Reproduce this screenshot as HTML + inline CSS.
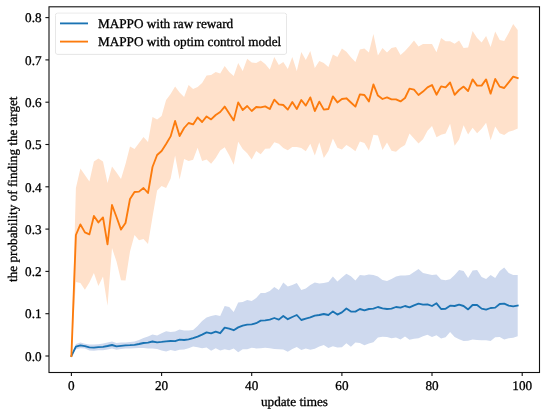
<!DOCTYPE html>
<html lang="en"><head><meta charset="utf-8"><title>MAPPO probability of finding the target</title>
<style>html,body{margin:0;padding:0;background:#fff}body{width:550px;height:414px;overflow:hidden}</style></head>
<body>
<svg width="550" height="414" viewBox="0 0 550 414" style="display:block;font-family:'Liberation Serif','Times New Roman',serif;font-size:13.2px;text-rendering:geometricPrecision;paint-order:stroke" fill="#000">
<rect width="550" height="414" fill="#fff"/>
<style>text{stroke:#000;stroke-width:0.3px;stroke-linejoin:round}</style>
<polygon points="71.4,356.0 75.9,344.0 80.4,342.6 84.9,343.8 89.4,344.4 93.9,344.4 98.4,344.2 103.0,343.4 107.5,342.6 112.0,341.4 116.5,343.0 121.0,342.6 125.5,342.4 130.0,342.0 134.5,341.4 139.0,340.0 143.5,338.0 148.0,336.6 152.5,334.6 157.1,335.5 161.6,333.2 166.1,331.2 170.6,332.0 175.1,331.4 179.6,329.4 184.1,330.6 188.6,330.6 193.1,330.0 197.6,326.0 202.1,321.0 206.6,317.4 211.1,316.0 215.7,315.0 220.2,316.0 224.7,306.0 229.2,307.0 233.7,312.0 238.2,302.6 242.7,302.0 247.2,300.0 251.7,301.0 256.2,298.0 260.7,293.0 265.2,293.0 269.8,291.0 274.3,287.0 278.8,290.0 283.3,282.4 287.8,286.6 292.3,285.0 296.8,283.0 301.3,290.0 305.8,288.6 310.3,285.0 314.8,282.4 319.3,283.6 323.8,283.0 328.4,282.0 332.9,276.6 337.4,281.6 341.9,277.6 346.4,273.8 350.9,276.3 355.4,280.6 359.9,275.0 364.4,275.6 368.9,274.4 373.4,275.0 377.9,276.6 382.5,280.0 387.0,281.0 391.5,279.0 396.0,276.6 400.5,275.6 405.0,275.6 409.5,275.0 414.0,272.0 418.5,269.0 423.0,273.0 427.5,274.0 432.0,275.0 436.5,274.5 441.1,279.6 445.6,280.3 450.1,279.3 454.6,275.0 459.1,270.0 463.6,271.0 468.1,278.0 472.6,270.4 477.1,270.0 481.6,277.0 486.1,279.0 490.6,275.0 495.2,278.0 499.7,271.0 504.2,267.6 508.7,273.0 513.2,275.0 517.7,275.0 517.7,336.2 513.2,337.8 508.7,338.2 504.2,339.6 499.7,337.0 495.2,337.2 490.6,341.0 486.1,340.2 481.6,340.2 477.1,340.0 472.6,339.6 468.1,340.8 463.6,341.0 459.1,339.2 454.6,337.0 450.1,332.1 445.6,337.3 441.1,338.4 436.5,335.3 432.0,337.0 427.5,334.8 423.0,336.2 418.5,338.2 414.0,338.8 409.5,339.8 405.0,336.4 400.5,339.6 396.0,337.4 391.5,338.2 387.0,337.0 382.5,336.8 377.9,337.4 373.4,342.2 368.9,343.6 364.4,345.2 359.9,343.0 355.4,342.6 350.9,346.7 346.4,343.2 341.9,347.2 337.4,347.6 332.9,346.2 328.4,348.0 323.8,345.0 319.3,346.4 314.8,348.8 310.3,349.8 305.8,348.6 301.3,350.0 296.8,347.0 292.3,349.0 287.8,351.8 283.3,349.6 278.8,349.2 274.3,349.0 269.8,348.2 265.2,347.8 260.7,348.2 256.2,348.4 251.7,347.8 247.2,349.2 242.7,349.2 238.2,352.2 233.7,348.4 229.2,350.2 224.7,349.2 220.2,350.4 215.7,348.2 211.1,350.8 206.6,347.4 202.1,348.2 197.6,347.2 193.1,346.4 188.6,348.2 184.1,349.4 179.6,349.8 175.1,351.0 170.6,350.0 166.1,351.4 161.6,350.6 157.1,349.1 152.5,348.4 148.0,348.6 143.5,348.0 139.0,348.0 134.5,348.2 130.0,348.4 125.5,348.4 121.0,349.0 116.5,349.8 112.0,348.6 107.5,349.4 103.0,350.2 98.4,350.2 93.9,350.8 89.4,350.4 84.9,348.6 80.4,348.2 75.9,349.2 71.4,356.0" fill="#ced9ee"/>
<polygon points="71.4,356.0 75.9,188.0 80.4,168.6 84.9,175.0 89.4,181.6 93.9,161.6 98.4,158.6 103.0,161.6 107.5,183.0 112.0,166.6 116.5,172.4 121.0,179.0 125.5,164.0 130.0,146.6 134.5,149.0 139.0,143.0 143.5,137.0 148.0,142.0 152.5,117.0 157.1,119.5 161.6,116.0 166.1,100.0 170.6,94.0 175.1,86.4 179.6,92.4 184.1,97.0 188.6,85.0 193.1,89.0 197.6,87.0 202.1,83.0 206.6,75.6 211.1,75.0 215.7,72.0 220.2,73.6 224.7,66.0 229.2,72.0 233.7,76.0 238.2,63.0 242.7,71.0 247.2,58.7 251.7,62.5 256.2,63.0 260.7,60.6 265.2,64.0 269.8,69.4 274.3,57.0 278.8,65.0 283.3,62.0 287.8,69.0 292.3,57.0 296.8,71.0 301.3,52.0 305.8,60.0 310.3,51.0 314.8,68.0 319.3,61.0 323.8,63.0 328.4,67.0 332.9,54.4 337.4,57.0 341.9,48.6 346.4,51.7 350.9,57.3 355.4,62.0 359.9,49.4 364.4,48.4 368.9,52.4 373.4,34.0 377.9,55.6 382.5,48.0 387.0,52.4 391.5,48.0 396.0,47.0 400.5,55.0 405.0,51.0 409.5,46.0 414.0,40.6 418.5,46.4 423.0,44.0 427.5,44.0 432.0,44.0 436.5,52.2 441.1,38.0 445.6,41.2 450.1,41.2 454.6,43.8 459.1,40.6 463.6,48.0 468.1,47.4 472.6,31.0 477.1,38.0 481.6,42.4 486.1,36.0 490.6,47.0 495.2,31.4 499.7,40.0 504.2,41.0 508.7,33.0 513.2,24.0 517.7,30.0 517.7,128.5 513.2,130.5 508.7,131.8 504.2,135.0 499.7,133.2 495.2,126.6 490.6,140.2 486.1,122.8 481.6,128.8 477.1,133.2 472.6,127.8 468.1,134.6 463.6,125.2 459.1,139.4 454.6,145.8 450.1,123.8 445.6,133.6 441.1,134.8 436.5,137.2 432.0,126.0 427.5,130.8 423.0,139.2 418.5,143.6 414.0,138.6 409.5,133.6 405.0,145.0 400.5,147.8 396.0,151.8 391.5,150.8 387.0,142.4 382.5,150.0 377.9,135.6 373.4,134.8 368.9,150.4 364.4,143.0 359.9,141.4 355.4,151.2 350.9,147.7 346.4,144.9 341.9,149.4 337.4,147.8 332.9,138.4 328.4,151.0 323.8,158.0 319.3,142.2 314.8,155.5 310.3,143.8 305.8,151.2 301.3,148.0 296.8,147.0 292.3,147.0 287.8,150.2 283.3,148.0 278.8,143.8 274.3,142.2 269.8,148.6 265.2,148.8 260.7,154.2 256.2,151.0 251.7,159.5 247.2,153.3 242.7,149.0 238.2,141.8 233.7,164.8 229.2,155.2 224.7,147.2 220.2,150.4 215.7,158.0 211.1,163.8 206.6,159.5 202.1,161.0 197.6,147.8 193.1,159.8 188.6,161.0 184.1,159.0 179.6,179.6 175.1,155.6 170.6,178.8 166.1,188.0 161.6,186.0 157.1,190.5 152.5,217.0 148.0,244.0 143.5,239.0 139.0,240.2 134.5,235.0 130.0,251.4 125.5,280.5 121.0,280.2 116.5,261.6 112.0,248.0 107.5,305.8 103.0,276.4 98.4,286.0 93.9,273.0 89.4,282.5 84.9,289.8 80.4,283.0 75.9,282.0 71.4,356.0" fill="#ffe1cb"/>
<polyline points="71.4,356.0 75.9,346.6 80.4,345.4 84.9,346.2 89.4,347.4 93.9,347.6 98.4,347.2 103.0,346.8 107.5,346.0 112.0,345.0 116.5,346.4 121.0,345.8 125.5,345.4 130.0,345.2 134.5,344.8 139.0,344.0 143.5,343.0 148.0,342.6 152.5,341.5 157.1,342.3 161.6,341.9 166.1,341.3 170.6,341.0 175.1,341.2 179.6,339.6 184.1,340.0 188.6,339.4 193.1,338.2 197.6,336.6 202.1,334.6 206.6,332.4 211.1,333.4 215.7,331.6 220.2,333.2 224.7,327.6 229.2,328.6 233.7,330.2 238.2,327.4 242.7,325.6 247.2,324.6 251.7,324.4 256.2,323.2 260.7,320.6 265.2,320.4 269.8,319.6 274.3,318.0 278.8,319.6 283.3,316.0 287.8,319.2 292.3,317.0 296.8,315.0 301.3,320.0 305.8,318.6 310.3,317.4 314.8,315.6 319.3,315.0 323.8,314.0 328.4,315.0 332.9,311.4 337.4,314.6 341.9,312.4 346.4,308.5 350.9,311.5 355.4,311.6 359.9,309.0 364.4,310.4 368.9,309.0 373.4,308.6 377.9,307.0 382.5,308.4 387.0,309.0 391.5,308.6 396.0,307.0 400.5,307.6 405.0,306.0 409.5,307.4 414.0,305.4 418.5,303.6 423.0,304.6 427.5,304.4 432.0,306.0 436.5,303.3 441.1,309.0 445.6,308.8 450.1,305.7 454.6,306.0 459.1,304.6 463.6,306.0 468.1,309.4 472.6,305.0 477.1,305.0 481.6,308.6 486.1,309.6 490.6,308.0 495.2,307.6 499.7,304.0 504.2,303.6 508.7,305.6 513.2,306.4 517.7,305.6" fill="none" stroke="#1a73b3" stroke-width="1.85" stroke-linejoin="round" stroke-linecap="square"/>
<polyline points="71.4,356.0 75.9,235.0 80.4,224.4 84.9,232.4 89.4,234.4 93.9,216.0 98.4,222.4 103.0,217.4 107.5,244.4 112.0,205.0 116.5,217.0 121.0,229.6 125.5,223.0 130.0,199.0 134.5,192.0 139.0,191.6 143.5,188.0 148.0,193.0 152.5,167.0 157.1,155.0 161.6,151.0 166.1,144.0 170.6,136.4 175.1,121.0 179.6,136.0 184.1,128.0 188.6,123.0 193.1,124.4 197.6,117.4 202.1,122.0 206.6,116.4 211.1,119.4 215.7,115.0 220.2,112.0 224.7,106.6 229.2,113.6 233.7,120.4 238.2,102.4 242.7,110.0 247.2,106.0 251.7,111.0 256.2,107.0 260.7,107.4 265.2,106.4 269.8,109.0 274.3,99.6 278.8,104.4 283.3,105.0 287.8,109.6 292.3,102.0 296.8,109.0 301.3,100.0 305.8,105.6 310.3,97.4 314.8,111.0 319.3,101.6 323.8,109.6 328.4,109.0 332.9,96.4 337.4,102.4 341.9,99.0 346.4,98.3 350.9,102.5 355.4,106.6 359.9,94.4 364.4,95.0 368.9,101.4 373.4,84.4 377.9,95.6 382.5,99.0 387.0,97.4 391.5,99.4 396.0,99.4 400.5,101.4 405.0,98.0 409.5,88.6 414.0,89.6 418.5,95.0 423.0,91.6 427.5,87.4 432.0,85.0 436.5,94.7 441.1,86.4 445.6,87.4 450.1,82.5 454.6,94.8 459.1,90.0 463.6,86.6 468.1,91.0 472.6,79.4 477.1,85.6 481.6,85.6 486.1,79.4 490.6,93.6 495.2,79.0 499.7,86.6 504.2,88.0 508.7,82.4 513.2,76.6 517.7,78.0" fill="none" stroke="#fc7b0d" stroke-width="1.85" stroke-linejoin="round" stroke-linecap="square"/>
<line x1="71.4" y1="372.5" x2="71.4" y2="376.1" stroke="#111" stroke-width="1.1"/>
<text x="71.4" y="389.7" text-anchor="middle">0</text>
<line x1="161.6" y1="372.5" x2="161.6" y2="376.1" stroke="#111" stroke-width="1.1"/>
<text x="161.6" y="389.7" text-anchor="middle">20</text>
<line x1="251.7" y1="372.5" x2="251.7" y2="376.1" stroke="#111" stroke-width="1.1"/>
<text x="251.7" y="389.7" text-anchor="middle">40</text>
<line x1="341.9" y1="372.5" x2="341.9" y2="376.1" stroke="#111" stroke-width="1.1"/>
<text x="341.9" y="389.7" text-anchor="middle">60</text>
<line x1="432.0" y1="372.5" x2="432.0" y2="376.1" stroke="#111" stroke-width="1.1"/>
<text x="432.0" y="389.7" text-anchor="middle">80</text>
<line x1="522.2" y1="372.5" x2="522.2" y2="376.1" stroke="#111" stroke-width="1.1"/>
<text x="522.2" y="389.7" text-anchor="middle">100</text>
<line x1="45.4" y1="356.0" x2="49.0" y2="356.0" stroke="#111" stroke-width="1.1"/>
<text x="41.6" y="360.7" text-anchor="end">0.0</text>
<line x1="45.4" y1="313.7" x2="49.0" y2="313.7" stroke="#111" stroke-width="1.1"/>
<text x="41.6" y="318.4" text-anchor="end">0.1</text>
<line x1="45.4" y1="271.4" x2="49.0" y2="271.4" stroke="#111" stroke-width="1.1"/>
<text x="41.6" y="276.1" text-anchor="end">0.2</text>
<line x1="45.4" y1="229.1" x2="49.0" y2="229.1" stroke="#111" stroke-width="1.1"/>
<text x="41.6" y="233.8" text-anchor="end">0.3</text>
<line x1="45.4" y1="186.8" x2="49.0" y2="186.8" stroke="#111" stroke-width="1.1"/>
<text x="41.6" y="191.5" text-anchor="end">0.4</text>
<line x1="45.4" y1="144.5" x2="49.0" y2="144.5" stroke="#111" stroke-width="1.1"/>
<text x="41.6" y="149.2" text-anchor="end">0.5</text>
<line x1="45.4" y1="102.2" x2="49.0" y2="102.2" stroke="#111" stroke-width="1.1"/>
<text x="41.6" y="106.9" text-anchor="end">0.6</text>
<line x1="45.4" y1="59.9" x2="49.0" y2="59.9" stroke="#111" stroke-width="1.1"/>
<text x="41.6" y="64.6" text-anchor="end">0.7</text>
<line x1="45.4" y1="17.6" x2="49.0" y2="17.6" stroke="#111" stroke-width="1.1"/>
<text x="41.6" y="22.3" text-anchor="end">0.8</text>
<rect x="49.0" y="6.8" width="490.5" height="365.7" fill="none" stroke="#111" stroke-width="1.1"/>
<text x="294.5" y="406" text-anchor="middle">update times</text>
<text transform="translate(17,189.2) rotate(-90)" text-anchor="middle">the probability of finding the target</text>
<rect x="55.5" y="13.3" width="231" height="40.8" rx="2" ry="2" fill="#fff" fill-opacity="0.8" stroke="#ccc" stroke-opacity="0.8" stroke-width="0.95"/>
<line x1="60" y1="23.4" x2="88" y2="23.4" stroke="#1a73b3" stroke-width="1.85"/>
<line x1="60" y1="41.6" x2="88" y2="41.6" stroke="#fc7b0d" stroke-width="1.85"/>
<text x="98" y="28">MAPPO with raw reward</text>
<text x="98" y="46.3">MAPPO with optim control model</text>
</svg>
</body></html>
